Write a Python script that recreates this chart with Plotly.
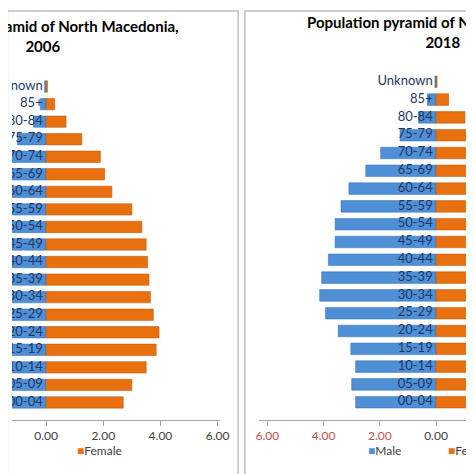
import plotly.graph_objects as go

# age groups, bottom to top
ages = ['00-04', '05-09', '10-14', '15-19', '20-24', '25-29', '30-34', '35-39',
        '40-44', '45-49', '50-54', '55-59', '60-64', '65-69', '70-74', '75-79',
        '80-84', '85+', 'Unknown']

# share of population in %, 2006 (male side is mostly cut off in the picture)
male_2006 = [2.9, 3.2, 3.7, 4.0, 4.1, 3.9, 3.8, 3.7, 3.6, 3.55, 3.4, 2.9,
             2.1, 1.8, 1.6, 1.0, 0.44, 0.2, 0.05]
female_2006 = [2.7, 3.0, 3.5, 3.85, 3.95, 3.75, 3.65, 3.6, 3.55, 3.5, 3.35, 3.0,
               2.3, 2.05, 1.9, 1.25, 0.7, 0.3, 0.05]

# 2018 (female side is mostly cut off)
male_2018 = [2.86, 3.0, 2.86, 3.03, 3.48, 3.93, 4.14, 4.07, 3.83, 3.59, 3.59, 3.38,
             3.1, 2.5, 1.97, 1.28, 0.62, 0.31, 0.04]
female_2018 = [2.7, 2.8, 2.7, 2.9, 3.3, 3.75, 3.95, 3.95, 3.7, 3.5, 3.55, 3.45,
               3.3, 2.8, 2.3, 1.7, 1.03, 0.45, 0.04]

tick_vals = [-6, -4, -2, 0, 2, 4, 6]
BLUE = '#4F8FD6'
ORANGE = '#E8700F'
LABEL = '#1F3864'
RED = '#C0504D'

fig = go.Figure()

panels = [('x', 'y', male_2006, female_2006),
          ('x2', 'y2', male_2018, female_2018)]
for xa, ya, male, female in panels:
    fig.add_trace(go.Bar(y=ages, x=[-v for v in male], orientation='h',
                         marker=dict(color=BLUE, line=dict(color='#2F6FB5', width=0.5)),
                         xaxis=xa, yaxis=ya, name='Male'))
    fig.add_trace(go.Bar(y=ages, x=female, orientation='h',
                         marker=dict(color=ORANGE, line=dict(color='#B5540A', width=0.5)),
                         xaxis=xa, yaxis=ya, name='Female'))
    fig.add_trace(go.Scatter(y=ages, x=[0] * len(ages), mode='text',
                             text=[a + ' ' for a in ages], textposition='middle left',
                             textfont=dict(family='Lato', size=13, color=LABEL),
                             xaxis=xa, yaxis=ya, hoverinfo='skip'))

def ticktext(neg_color):
    out = []
    for v in tick_vals:
        s = '%.2f' % abs(v)
        if v < 0:
            s = "<span style='color:%s'>%s</span>" % (neg_color, s)
        out.append(s)
    return out

xcommon = dict(showgrid=False, zeroline=False, showline=True, linecolor='#A6A6A6',
               ticks='outside', ticklen=5, tickcolor='#A6A6A6', tickvals=tick_vals,
               tickfont=dict(family='Lato', size=12, color='#404040'))
ycommon = dict(type='category', showticklabels=False, showgrid=False, zeroline=False)
fig.update_layout(
    width=474, height=474, margin=dict(l=0, r=0, t=0, b=0),
    paper_bgcolor='white', plot_bgcolor='white',
    barmode='overlay', bargap=0.35, showlegend=False,
    xaxis=dict(domain=[0, 0.4515], range=[-1.19, 6.07], ticktext=ticktext('#404040'), **xcommon),
    xaxis2=dict(domain=[0.538, 1], range=[-6.28, 1.28], ticktext=ticktext(RED), **xcommon),
    yaxis=dict(domain=[1 - 412 / 474, 1 - 61 / 474], **ycommon),
    yaxis2=dict(domain=[1 - 412 / 474, 1 - 56 / 474], anchor='x2', **ycommon),
)

title_font = dict(family='Lato', size=15, color='black')
fig.add_annotation(x=32 / 474, y=1 - 7 / 474, xref='paper', yref='paper', showarrow=False,
                   text='<b>Population pyramid of North Macedonia,<br>2006</b>',
                   font=title_font, xanchor='center', yanchor='top')
fig.add_annotation(x=444 / 474, y=1 - 3 / 474, xref='paper', yref='paper', showarrow=False,
                   text='<b>Population pyramid of North Macedonia,<br>2018</b>',
                   font=title_font, xanchor='center', yanchor='top')

leg_font = dict(family='Lato', size=12, color='#404040')
legend_items = [(65, ORANGE, 'Female'), (365, BLUE, 'Male'), (447, ORANGE, 'Female')]
for px, col, name in legend_items:
    fig.add_annotation(x=px / 474, y=1 - 452 / 474, xref='paper', yref='paper',
                       showarrow=False, xanchor='left',
                       text="<span style='color:%s'>■</span>%s" % (col, name), font=leg_font)

# panel frames
fig.add_shape(type='rect', xref='paper', yref='paper', x0=-0.01, x1=233 / 474,
              y0=4 / 474, y1=1 - 3 / 474, line=dict(color='#BFBFBF', width=1.5))
fig.add_shape(type='rect', xref='paper', yref='paper', x0=240 / 474, x1=1.01,
              y0=4 / 474, y1=1 - 3 / 474, line=dict(color='#BFBFBF', width=1.5))

fig.write_html('out.html')
